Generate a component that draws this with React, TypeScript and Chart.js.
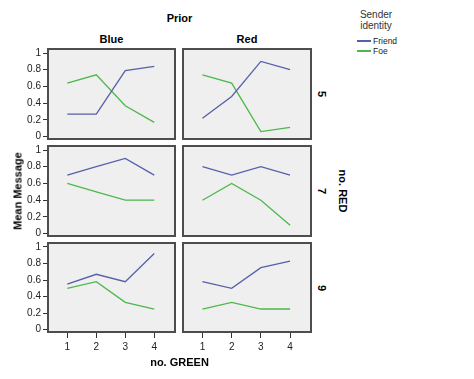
import React, { useEffect, useRef } from 'react';
import { Chart, registerables } from 'chart.js';

Chart.register(...registerables);

// ---- data ----
const categories = [1, 2, 3, 4];
const priorLevels = ['Blue', 'Red'];
const redLevels = ['5', '7', '9'];
const seriesNames = ['Friend', 'Foe'];
const seriesColors = ['#5660a9', '#4cb84b'];
const yTickValues = [0, 0.2, 0.4, 0.6, 0.8, 1];

const friendBlue5 = [0.27, 0.27, 0.79, 0.84];
const foeBlue5 = [0.64, 0.74, 0.37, 0.17];
const friendRed5 = [0.22, 0.48, 0.9, 0.8];
const foeRed5 = [0.74, 0.64, 0.06, 0.11];

const friendBlue7 = [0.7, 0.8, 0.9, 0.7];
const foeBlue7 = [0.6, 0.5, 0.4, 0.4];
const friendRed7 = [0.8, 0.7, 0.8, 0.7];
const foeRed7 = [0.4, 0.6, 0.4, 0.1];

const friendBlue9 = [0.55, 0.67, 0.58, 0.92];
const foeBlue9 = [0.5, 0.58, 0.33, 0.25];
const friendRed9 = [0.58, 0.5, 0.75, 0.83];
const foeRed9 = [0.25, 0.33, 0.25, 0.25];

const panelSeries = [
  [[friendBlue5, foeBlue5], [friendRed5, foeRed5]],
  [[friendBlue7, foeBlue7], [friendRed7, foeRed7]],
  [[friendBlue9, foeBlue9], [friendRed9, foeRed9]],
];

// ---- layout ----
const FONT = "'Liberation Sans', Arial, sans-serif";
const COL_X = [47, 182];
const COL_W = [129, 130];
const ROW_Y = [48, 145, 242];
const ROW_H = [92, 92, 91];
const YAXIS_W = 30;
const XAXIS_H = 24;

const framePlugin = {
  id: 'panelFrame',
  beforeDraw(chart: any) {
    const { ctx, chartArea: a } = chart;
    ctx.save();
    ctx.fillStyle = '#efefef';
    ctx.fillRect(a.left, a.top, a.right - a.left, a.bottom - a.top);
    ctx.restore();
  },
  afterDraw(chart: any) {
    const { ctx, chartArea: a } = chart;
    ctx.save();
    ctx.strokeStyle = '#4d4d4d';
    ctx.lineWidth = 2;
    ctx.strokeRect(a.left + 1, a.top + 1, a.right - a.left - 2, a.bottom - a.top - 2);
    ctx.restore();
  },
};

function Panel({ row, col }: { row: number; col: number }) {
  const ref = useRef<HTMLCanvasElement | null>(null);
  const showY = col === 0;
  const showX = row === 2;
  const left = COL_X[col] - (showY ? YAXIS_W : 0);
  const top = ROW_Y[row];
  const width = COL_W[col] + (showY ? YAXIS_W : 0);
  const height = ROW_H[row] + (showX ? XAXIS_H : 0);

  useEffect(() => {
    if (!ref.current) return;
    const series = panelSeries[row][col];
    const chart = new Chart(ref.current, {
      type: 'line',
      data: {
        datasets: series.map((vals, i) => ({
          label: seriesNames[i],
          data: vals.map((v, j) => ({ x: categories[j], y: v })),
          borderColor: seriesColors[i],
          backgroundColor: seriesColors[i],
          borderWidth: 1.3,
          pointRadius: 0,
          tension: 0,
          fill: false,
        })),
      },
      options: {
        animation: false,
        responsive: false,
        devicePixelRatio: 1,
        layout: { padding: 0 },
        plugins: { legend: { display: false }, tooltip: { enabled: false } },
        scales: {
          x: {
            type: 'linear',
            min: 0.3,
            max: 4.75,
            display: showX,
            afterBuildTicks: (s: any) => {
              s.ticks = categories.map((v) => ({ value: v }));
            },
            afterFit: showX
              ? (s: any) => {
                  s.height = XAXIS_H;
                  s.paddingLeft = 0;
                  s.paddingRight = 0;
                }
              : undefined,
            grid: { drawOnChartArea: false, drawTicks: true, tickLength: 5, color: '#333', lineWidth: 1 },
            border: { display: false },
            ticks: {
              font: { size: 10, family: FONT },
              color: '#222',
              padding: 3,
              maxRotation: 0,
              autoSkip: false,
            },
          },
          y: {
            type: 'linear',
            min: -0.04,
            max: 1.06,
            display: showY,
            afterBuildTicks: (s: any) => {
              s.ticks = yTickValues.map((v) => ({ value: v }));
            },
            afterFit: showY
              ? (s: any) => {
                  s.width = YAXIS_W;
                  s.paddingTop = 0;
                  s.paddingBottom = 0;
                }
              : undefined,
            grid: { drawOnChartArea: false, drawTicks: true, tickLength: 4, color: '#333', lineWidth: 1 },
            border: { display: false },
            ticks: {
              font: { size: 10, family: FONT },
              color: '#222',
              padding: 2,
              autoSkip: false,
              callback: (v: any) => String(Math.round(Number(v) * 10) / 10),
            },
          },
        },
      } as any,
      plugins: [framePlugin],
    });
    return () => chart.destroy();
  }, [row, col]);

  return (
    <canvas
      ref={ref}
      width={width}
      height={height}
      style={{ position: 'absolute', left, top, width, height }}
    />
  );
}

function Label({
  text,
  x,
  y,
  size,
  bold = true,
  rotate = 0,
  color = '#000',
}: {
  text: string;
  x: number;
  y: number;
  size: number;
  bold?: boolean;
  rotate?: number;
  color?: string;
}) {
  return (
    <div
      style={{
        position: 'absolute',
        left: x,
        top: y,
        transform: `translate(-50%, -50%) rotate(${rotate}deg)`,
        fontFamily: FONT,
        fontSize: size,
        fontWeight: bold ? 'bold' : 'normal',
        color,
        whiteSpace: 'nowrap',
        lineHeight: 1,
      }}
    >
      {text}
    </div>
  );
}

export default function App() {
  const cells: React.ReactNode[] = [];
  redLevels.forEach((_, r) => {
    priorLevels.forEach((_, c) => {
      cells.push(<Panel key={`${r}-${c}`} row={r} col={c} />);
    });
  });
  const gridLeft = COL_X[0];
  const gridRight = COL_X[1] + COL_W[1];
  const gridTop = ROW_Y[0];
  const gridBottom = ROW_Y[2] + ROW_H[2];
  const midX = (gridLeft + gridRight) / 2;
  const midY = (gridTop + gridBottom) / 2;

  return (
    <div
      style={{
        position: 'absolute',
        left: 0,
        top: 0,
        width: 474,
        height: 379,
        background: '#fff',
        overflow: 'hidden',
      }}
    >
      {cells}
      <Label text="Prior" x={midX} y={18} size={11} />
      {priorLevels.map((p, c) => (
        <Label key={p} text={p} x={COL_X[c] + COL_W[c] / 2} y={39} size={11} />
      ))}
      {redLevels.map((r, i) => (
        <Label key={r} text={r} x={321} y={ROW_Y[i] + ROW_H[i] / 2} size={11} rotate={90} />
      ))}
      <Label text="no. RED" x={342} y={midY} size={11} rotate={90} />
      <Label text="Mean Message" x={18} y={midY} size={11} rotate={-90} />
      <Label text="no. GREEN" x={midX} y={362} size={11} />
      <Label text="Sender" x={376} y={15} size={10} bold={false} color="#333" />
      <Label text="identity" x={376} y={26} size={10} bold={false} color="#333" />
      {seriesNames.map((name, i) => (
        <div
          key={name}
          style={{
            position: 'absolute',
            left: 357,
            top: 41 + i * 10 - 5,
            height: 10,
            display: 'flex',
            alignItems: 'center',
            fontFamily: FONT,
            fontSize: 8.5,
            color: '#222',
            whiteSpace: 'nowrap',
          }}
        >
          <span style={{ display: 'inline-block', width: 14, height: 1.3, background: seriesColors[i], marginRight: 2 }} />
          <span>{name}</span>
        </div>
      ))}
    </div>
  );
}
